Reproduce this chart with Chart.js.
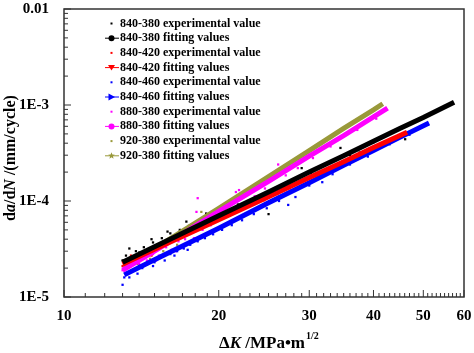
<!DOCTYPE html>
<html>
<head>
<meta charset="utf-8">
<script src="https://cdn.jsdelivr.net/npm/chart.js@4"></script>
<style>
  html, body { margin: 0; padding: 0; background: #fff; }
  #wrap { width: 474px; height: 353px; position: relative; }
</style>
</head>
<body>
<div id="wrap"><canvas id="c" width="474" height="353"></canvas></div>
<script>
/* ─── DATA ────────────────────────────────────────────── */
const xTickLabels = [10, 20, 30, 40, 50, 60]
const yTickLabels = { 1e-5: '1E-5', 1e-4: '1E-4', 1e-3: '1E-3', 1e-2: '0.01' }

// experimental values: [ΔK, da/dN]
const exp840_380 = [
  [13.0, 2.4e-5], [13.2, 2.7e-5], [13.5, 2.5e-5], [13.8, 3.0e-5], [14.0, 2.9e-5],
  [14.3, 3.3e-5], [14.6, 3.1e-5], [14.9, 3.7e-5], [15.2, 3.5e-5], [15.5, 4.1e-5],
  [15.8, 3.9e-5], [16.1, 4.6e-5], [16.4, 4.3e-5], [16.8, 5.0e-5], [17.1, 4.8e-5],
  [17.5, 5.5e-5], [17.9, 5.2e-5], [18.3, 6.0e-5], [18.7, 6.4e-5], [19.2, 6.2e-5],
  [19.7, 7.2e-5], [20.3, 7.6e-5], [21.0, 8.0e-5], [21.8, 9.2e-5], [22.6, 9.6e-5],
  [23.5, 1.07e-4], [24.5, 1.18e-4], [25.0, 7.3e-5], [25.6, 1.3e-4], [26.8, 1.45e-4],
  [28.0, 1.65e-4], [29.0, 2.2e-4], [30.2, 1.95e-4], [32.0, 2.35e-4], [34.5, 3.57e-4],
  [36.0, 3.0e-4], [37.6, 3.2e-4], [40.0, 4.1e-4], [46.1, 4.4e-4],
  [13.4, 3.2e-5], [14.8, 4.0e-5], [15.9, 4.8e-5], [17.3, 6.1e-5], [18.9, 7.4e-5],
]
const exp840_420 = [
  [13.0, 2.1e-5], [13.3, 2.4e-5], [13.6, 2.3e-5], [14.0, 2.6e-5], [14.4, 2.9e-5],
  [14.8, 2.7e-5], [15.2, 3.3e-5], [15.7, 3.5e-5], [16.2, 3.8e-5], [16.7, 4.2e-5],
  [17.3, 4.5e-5], [17.9, 4.9e-5], [18.6, 5.3e-5], [19.3, 5.8e-5], [20.1, 6.6e-5],
  [21.0, 7.1e-5], [22.0, 8.0e-5], [23.2, 9.2e-5], [24.5, 1.02e-4], [26.0, 1.18e-4],
  [27.5, 1.36e-4], [29.0, 1.58e-4], [31.0, 1.85e-4], [33.5, 2.25e-4], [36.5, 2.75e-4],
  [40.0, 3.4e-4], [44.0, 4.4e-4],
  [13.5, 2.7e-5], [14.6, 3.1e-5], [15.9, 3.9e-5], [17.0, 4.9e-5],
]
const exp840_460 = [
  [13.0, 1.34e-5], [13.1, 1.6e-5], [13.3, 1.8e-5], [13.6, 1.9e-5], [13.9, 1.75e-5],
  [14.2, 2.0e-5], [14.5, 2.2e-5], [14.9, 2.1e-5], [15.3, 2.5e-5], [15.7, 2.4e-5],
  [16.1, 2.8e-5], [16.6, 3.0e-5], [17.1, 3.2e-5], [17.6, 3.5e-5], [18.2, 3.8e-5],
  [18.8, 4.1e-5], [19.5, 4.5e-5], [20.3, 5.0e-5], [21.2, 5.6e-5], [22.2, 6.3e-5],
  [23.4, 7.3e-5], [24.8, 8.4e-5], [26.2, 1.0e-4], [27.3, 9.1e-5], [28.2, 1.1e-4],
  [30.0, 1.45e-4], [31.8, 1.57e-4], [33.3, 1.9e-4], [36.0, 2.4e-4], [39.0, 2.9e-4],
  [43.0, 3.9e-4], [47.0, 4.9e-4],
  [13.4, 1.6e-5], [14.0, 2.1e-5], [15.0, 2.3e-5], [16.4, 2.7e-5], [17.4, 3.1e-5],
]
const exp880_380 = [
  [13.0, 1.9e-5], [13.4, 2.2e-5], [13.8, 2.0e-5], [14.2, 2.5e-5], [14.5, 2.4e-5],
  [14.9, 2.8e-5], [15.3, 2.7e-5], [15.8, 3.3e-5], [16.2, 3.1e-5], [16.7, 3.8e-5],
  [17.2, 4.0e-5], [17.9, 4.1e-5], [18.1, 7.7e-5], [18.2, 1.07e-4], [18.6, 5.0e-5],
  [19.3, 5.6e-5], [20.0, 6.5e-5], [20.8, 7.4e-5], [21.6, 1.24e-4], [21.9, 1.3e-4],
  [22.5, 9.4e-5], [23.5, 1.12e-4], [24.6, 1.35e-4], [26.1, 2.4e-4], [27.0, 1.85e-4],
  [28.5, 2.2e-4], [30.5, 2.8e-4], [33.0, 3.7e-4], [37.2, 5.5e-4], [40.5, 7.2e-4],
  [14.0, 2.2e-5], [15.1, 2.4e-5], [16.5, 3.0e-5], [19.0, 4.6e-5], [20.5, 5.6e-5],
]
const exp920_380 = [
  [13.1, 2.1e-5], [13.5, 2.4e-5], [13.9, 2.2e-5], [14.3, 2.7e-5], [14.7, 2.5e-5],
  [15.1, 3.2e-5], [15.6, 3.0e-5], [16.1, 3.8e-5], [16.6, 3.5e-5], [17.2, 4.6e-5],
  [17.8, 5.0e-5], [18.5, 7.7e-5], [19.0, 6.4e-5], [19.8, 7.6e-5], [20.6, 8.7e-5],
  [21.5, 1.0e-4], [22.5, 1.15e-4], [23.6, 1.35e-4], [25.0, 1.65e-4],
]

// fitting values: [ΔK, da/dN]
const fit840_380 = [[13, 2.3e-5], [15, 3.33e-5], [20, 7.0e-5], [25, 1.24e-4], [30, 2.0e-4],
  [35, 2.96e-4], [40, 4.2e-4], [45, 5.7e-4], [50, 7.4e-4], [57.4, 1.07e-3]]
const fit840_420 = [[13, 2.2e-5], [15, 3.15e-5], [20, 6.4e-5], [25, 1.11e-4], [30, 1.76e-4],
  [35, 2.56e-4], [40, 3.6e-4], [46.5, 5.2e-4]]
const fit840_460 = [[13.1, 1.7e-5], [15, 2.44e-5], [20, 5.2e-5], [25, 9.6e-5], [30, 1.55e-4],
  [35, 2.35e-4], [40, 3.35e-4], [45, 4.6e-4], [51.3, 6.5e-4]]
const fit880_380 = [[13, 1.9e-5], [15, 3.0e-5], [20, 7.8e-5], [25, 1.6e-4], [30, 2.94e-4],
  [35, 4.8e-4], [40, 7.5e-4], [42.6, 9.3e-4]]
const fit920_380 = [[13.1, 2.0e-5], [15, 3.2e-5], [20, 8.4e-5], [25, 1.8e-4], [30, 3.35e-4],
  [35, 5.7e-4], [40, 8.9e-4], [41.7, 1.03e-3]]

/* ─── STYLE ───────────────────────────────────────────── */
const FONT = '"Liberation Serif", "Times New Roman", serif'
const COLORS = {
  k: '#000000', r: '#ff0000', b: '#0000ff', m: '#ff00ff', o: '#99993a',
}

const toPts = arr => arr.map(([x, y]) => ({ x, y }))

const expSet = (label, data, color) => ({
  label, data: toPts(data), order: 2,
  backgroundColor: color, borderColor: color,
  pointStyle: 'rect', pointRadius: 1.6, pointBorderWidth: 0, showLine: false,
})
const fitSet = (label, data, color, marker) => ({
  label, data: toPts(data), order: 1, marker,
  borderColor: color, backgroundColor: color,
  showLine: true, borderWidth: 5, pointRadius: 0, tension: 0,
})

const datasets = [
  expSet('840-380 experimental value', exp840_380, COLORS.k),
  fitSet('840-380 fitting values', fit840_380, COLORS.k, 'circle'),
  expSet('840-420 experimental value', exp840_420, COLORS.r),
  fitSet('840-420 fitting values', fit840_420, COLORS.r, 'down'),
  expSet('840-460 experimental value', exp840_460, COLORS.b),
  fitSet('840-460 fitting values', fit840_460, COLORS.b, 'right'),
  expSet('880-380 experimental value', exp880_380, COLORS.m),
  fitSet('880-380 fitting values', fit880_380, COLORS.m, 'circle'),
  expSet('920-380 experimental value', exp920_380, COLORS.o),
  fitSet('920-380 fitting values', fit920_380, COLORS.o, 'star'),
]

/* ─── DECORATION PLUGIN: frame, inner ticks, legend, titles ─ */
const drawMarker = (ctx, kind, x, y, color) => {
  ctx.fillStyle = color
  ctx.beginPath()
  if (kind === 'circle') ctx.arc(x, y, 3, 0, Math.PI * 2)
  else if (kind === 'down') { ctx.moveTo(x - 3.5, y - 2.5); ctx.lineTo(x + 3.5, y - 2.5); ctx.lineTo(x, y + 3) }
  else if (kind === 'right') { ctx.moveTo(x - 3, y - 3.5); ctx.lineTo(x + 3.5, y); ctx.lineTo(x - 3, y + 3.5) }
  else if (kind === 'star') {
    for (let i = 0; i < 10; i++) {
      const r = i % 2 ? 1.5 : 3.5, a = -Math.PI / 2 + i * Math.PI / 5
      ctx.lineTo(x + r * Math.cos(a), y + r * Math.sin(a))
    }
  }
  ctx.closePath()
  ctx.fill()
}

const drawRuns = (ctx, runs, x, y) => {
  // runs.parts: [text, italic]; drawn centred on x
  const setFont = it => { ctx.font = `${it ? 'italic ' : ''}bold ${runs.size}px ${FONT}` }
  let total = 0
  runs.parts.forEach(([t, it]) => { setFont(it); total += ctx.measureText(t).width })
  let cx = x - total / 2
  runs.parts.forEach(([t, it]) => { setFont(it); ctx.fillText(t, cx, y); cx += ctx.measureText(t).width })
  return cx
}

const decor = {
  id: 'decor',
  afterDraw(chart) {
    const { ctx, chartArea: a, scales } = chart
    ctx.save()
    // frame
    ctx.strokeStyle = '#333'
    ctx.lineWidth = 1.5
    ctx.strokeRect(a.left, a.top, a.right - a.left, a.bottom - a.top)

    // inner ticks
    ctx.lineWidth = 1
    ctx.beginPath()
    scales.x.ticks.forEach(t => {
      const px = scales.x.getPixelForValue(t.value)
      const len = xTickLabels.includes(t.value) ? 7 : 4
      ctx.moveTo(px, a.bottom); ctx.lineTo(px, a.bottom - len)
    })
    scales.y.ticks.forEach(t => {
      const py = scales.y.getPixelForValue(t.value)
      const len = yTickLabels[t.value] !== undefined ? 7 : 4
      ctx.moveTo(a.left, py); ctx.lineTo(a.left + len, py)
    })
    ctx.stroke()

    // legend
    ctx.textBaseline = 'middle'
    ctx.textAlign = 'left'
    ctx.font = `bold 12px ${FONT}`
    chart.data.datasets.forEach((ds, i) => {
      const y = 23.5 + i * 14.7
      if (ds.showLine) {
        ctx.strokeStyle = ds.borderColor
        ctx.lineWidth = 1
        ctx.beginPath(); ctx.moveTo(105, y); ctx.lineTo(119, y); ctx.stroke()
        drawMarker(ctx, ds.marker, 111.5, y, ds.borderColor)
      } else {
        ctx.fillStyle = ds.backgroundColor
        ctx.fillRect(110.5, y - 1, 2, 2)
      }
      ctx.fillStyle = '#000'
      ctx.fillText(ds.label, 120, y)
    })

    // x title
    ctx.fillStyle = '#000'
    ctx.textAlign = 'left'
    ctx.textBaseline = 'alphabetic'
    const end = drawRuns(ctx, { size: 17, parts: [['\u0394', false], ['K', true], [' /MPa\u2022m', false]] }, 262, 348)
    ctx.font = `bold 10px ${FONT}`
    ctx.fillText('1/2', end + 1, 339)

    // y title
    ctx.translate(15, 158)
    ctx.rotate(-Math.PI / 2)
    drawRuns(ctx, { size: 16, parts: [['d', false], ['a', true], ['/d', false], ['N', true], [' /(mm/cycle)', false]] }, 0, 0)
    ctx.restore()
  },
}

/* ─── CHART ───────────────────────────────────────────── */
const xMinor = []
for (let v = 10; v <= 60; v++) xMinor.push(v)
const yMinor = []
for (const d of [1e-5, 1e-4, 1e-3]) for (let m = 1; m <= 9; m++) yMinor.push(+(m * d).toPrecision(3))
yMinor.push(1e-2)

new Chart(document.getElementById('c'), {
  type: 'scatter',
  data: { datasets },
  options: {
    responsive: false,
    animation: false,
    events: [],
    layout: { padding: { top: 9, right: 10, left: 0, bottom: 0 } },
    plugins: { legend: { display: false }, tooltip: { enabled: false } },
    scales: {
      x: {
        type: 'logarithmic', min: 10, max: 60,
        afterBuildTicks: s => { s.ticks = xMinor.map(v => ({ value: v })) },
        afterFit: s => { s.height = 56; s.paddingLeft = 0; s.paddingRight = 0 },
        grid: { display: false }, border: { display: false },
        ticks: {
          autoSkip: false, maxRotation: 0, padding: 2, color: '#000',
          font: { family: FONT, size: 15, weight: 'bold' },
          callback: v => xTickLabels.includes(v) ? String(v) : '',
        },
      },
      y: {
        type: 'logarithmic', min: 1e-5, max: 1e-2,
        afterBuildTicks: s => { s.ticks = yMinor.map(v => ({ value: v })) },
        afterFit: s => { s.width = 64; s.paddingTop = 0; s.paddingBottom = 0 },
        grid: { display: false }, border: { display: false },
        ticks: {
          autoSkip: false, padding: 7, color: '#000',
          font: { family: FONT, size: 15, weight: 'bold' },
          callback: v => yTickLabels[v] ?? '',
        },
      },
    },
  },
  plugins: [decor],
})
</script>
</body>
</html>
